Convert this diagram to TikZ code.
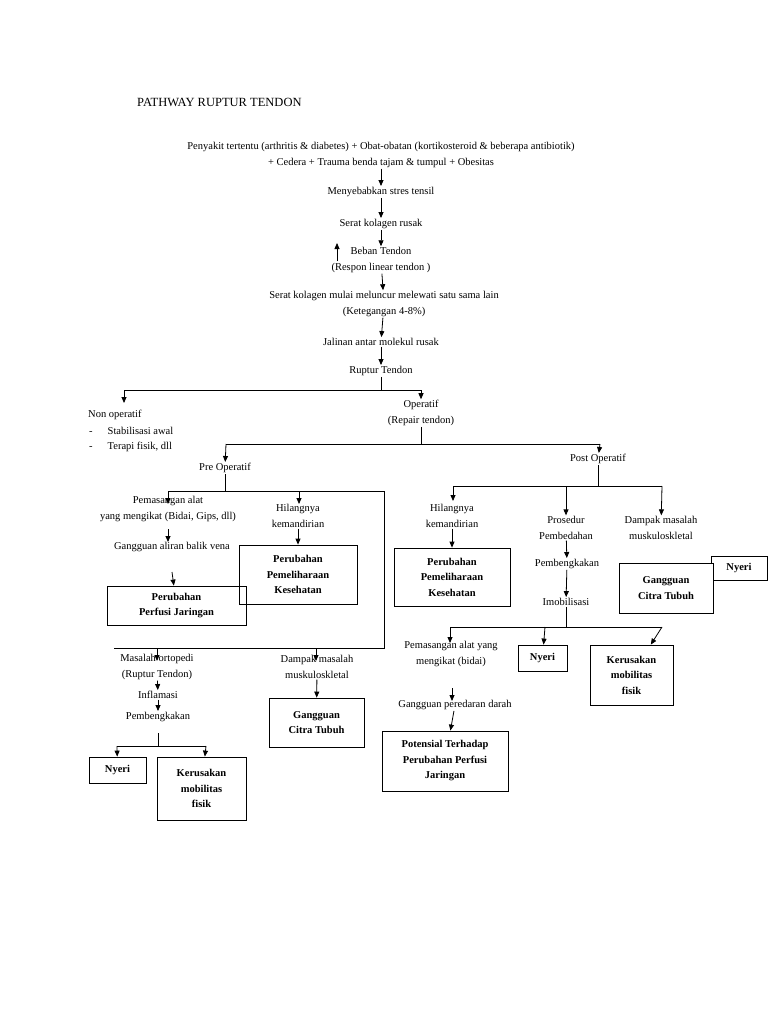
\documentclass[tikz,border=0pt]{standalone}
\usepackage{fontspec}
\setmainfont{Liberation Serif}
\usetikzlibrary{arrows.meta}
\begin{document}
\begin{tikzpicture}[x=1pt,y=-1pt,
  t/.style={inner sep=1pt,align=center,font=\fontsize{10.5}{15.5}\selectfont},
  bx/.style={draw,thick,align=center,font=\fontsize{10.5}{15.5}\selectfont\bfseries,inner sep=2pt},
  arr/.style={-{Triangle[length=6pt,width=5pt]},line width=0.8pt},
  ln/.style={line width=0.8pt}]
\useasboundingbox (0,0) rectangle (768,1024);
\node[t,anchor=west,font=\fontsize{12.5}{14}\selectfont] (title) at (136,102) {PATHWAY RUPTUR TENDON};
\node[t] (p1) at (381,155) {Penyakit tertentu (arthritis \& diabetes) + Obat-obatan (kortikosteroid \& beberapa antibiotik)\\+ Cedera + Trauma benda tajam \& tumpul + Obesitas};
\node[t] (p2) at (381,192) {Menyebabkan stres tensil};
\node[t] (p3) at (381,224) {Serat kolagen rusak};
\node[t] (p4) at (381,260) {Beban Tendon\\(Respon linear tendon )};
\node[t] (p5) at (384,304) {Serat kolagen mulai meluncur melewati satu sama lain\\(Ketegangan 4-8\%)};
\node[t] (p6) at (381,342) {Jalinan antar molekul rusak};
\node[t] (p7) at (381,371) {Ruptur Tendon};
\draw[arr] (p1) -- (p2);
\draw[arr] (p2) -- (p3);
\draw[arr] (p3) -- (p4);
\coordinate (u1) at (337,261); \coordinate (u2) at (337,243);
\draw[arr] (u1) -- (u2);
\draw[arr] (p4) -- (p5);
\draw[arr] (p5) -- (p6);
\draw[arr] (p6) -- (p7);
% branch 1
\node[t,anchor=west] (non) at (87,415) {Non operatif};
\node[t,anchor=west] (b1) at (88,431) {-\hspace{15pt}Stabilisasi awal};
\node[t,anchor=west] (b2) at (88,447) {-\hspace{15pt}Terapi fisik, dll};
\node[t] (op) at (421,413) {Operatif\\(Repair tendon)};
\coordinate (j1) at (381,390);
\draw[ln] (p7) -- (j1);
\draw[arr] (124,390) -- (124,403);
\draw[ln] (124,390) -- (421,390);
\draw[arr] (421,390) -- (op);
% branch 2
\node[t] (pre) at (225,468) {Pre Operatif};
\node[t] (post) at (598,459) {Post Operatif};
\draw[ln] (op) -- (421,444);
\draw[ln] (226,444) -- (600,444);
\draw[arr] (226,444) -- (pre);
\draw[arr] (600,444) -- (post);
% Pre
\node[t] (pa) at (168,509) {Pemasangan alat\\yang mengikat (Bidai, Gips, dll)};
\node[t] (hk1) at (298,516) {Hilangnya\\kemandirian};
\draw[ln] (pre) -- (225,491);
\draw[ln] (168,491) -- (384,491) -- (384,648) -- (114,648);
\draw[arr] (168,491) -- (168,504);
\draw[arr] (299,491) -- (299,504);
\node[t] (gab) at (172,547) {Gangguan aliran balik vena};
\draw[arr] (168,529) -- (168,542);
\node[bx,minimum width=139,minimum height=39] (ppj) at (176.5,605.5) {Perubahan\\Perfusi Jaringan};
\draw[arr] (172,572) -- (ppj);
\node[bx,minimum width=118,minimum height=59] (ppk1) at (298,574.5) {Perubahan\\Pemeliharaan\\Kesehatan};
\draw[arr] (hk1) -- (ppk1);
\node[t] (mo) at (157,667) {Masalah ortopedi\\(Ruptur Tendon)};
\node[t] (dm1) at (317,667) {Dampak masalah\\muskuloskletal};
\draw[arr] (157,648) -- (157,661);
\draw[arr] (316,648) -- (316,661);
\node[t] (inf) at (158,695) {Inflamasi};
\node[t] (pb1) at (158,717) {Pembengkakan};
\draw[arr] (mo) -- (inf);
\draw[arr] (inf) -- (pb1);
\node[bx,minimum width=57,minimum height=26] (ny1) at (117.5,770) {Nyeri};
\node[bx,minimum width=89,minimum height=63] (km1) at (201.5,788.5) {Kerusakan\\mobilitas\\fisik};
\draw[ln] (158,733) -- (158,746);
\draw[ln] (117,746) -- (206,746);
\draw[arr] (117,746) -- (ny1);
\draw[arr] (206,746) -- (km1);
\node[bx,minimum width=95,minimum height=49] (gct1) at (316.5,722.5) {Gangguan\\Citra Tubuh};
\draw[arr] (dm1) -- (gct1);
% Post
\draw[ln] (post) -- (598,486);
\draw[ln] (453,486) -- (662,486);
\node[t] (hk2) at (452,516) {Hilangnya\\kemandirian};
\node[t] (pr) at (566,528) {Prosedur\\Pembedahan};
\node[t] (dm2) at (661,528) {Dampak masalah\\muskuloskletal};
\draw[arr] (453,486) -- (453,501);
\draw[arr] (566,486) -- (pr);
\draw[arr] (662,486) -- (dm2);
\node[bx,minimum width=116,minimum height=58] (ppk2) at (452,577) {Perubahan\\Pemeliharaan\\Kesehatan};
\draw[arr] (hk2) -- (ppk2);
\node[t] (pb2) at (567,564) {Pembengkakan};
\node[t] (im) at (566,602) {Imobilisasi};
\draw[arr] (pr) -- (pb2);
\draw[arr] (pb2) -- (im);
\node[bx,minimum width=56,minimum height=24] (ny3) at (739,568) {Nyeri};
\node[bx,fill=white,minimum width=94,minimum height=50] (gct2) at (666,588) {Gangguan\\Citra Tubuh};
\draw[ln] (im) -- (566,627);
\draw[ln] (450,627) -- (662,627);
\node[t] (pa2) at (451,654) {Pemasangan alat yang\\mengikat (bidai)};
\node[bx,minimum width=49,minimum height=26] (ny2) at (542.5,658) {Nyeri};
\node[bx,minimum width=83,minimum height=60] (km2) at (631.5,675) {Kerusakan\\mobilitas\\fisik};
\draw[arr] (450,627) -- (450,643);
\draw[arr] (545,627) -- (ny2);
\draw[arr] (662,627) -- (km2);
\node[t] (gpd) at (455,705) {Gangguan peredaran darah};
\draw[arr] (452,688) -- (452,701);
\node[bx,minimum width=126,minimum height=60] (ptp) at (445,761) {Potensial Terhadap\\Perubahan Perfusi\\Jaringan};
\draw[arr] (gpd) -- (ptp);
\end{tikzpicture}
\end{document}
